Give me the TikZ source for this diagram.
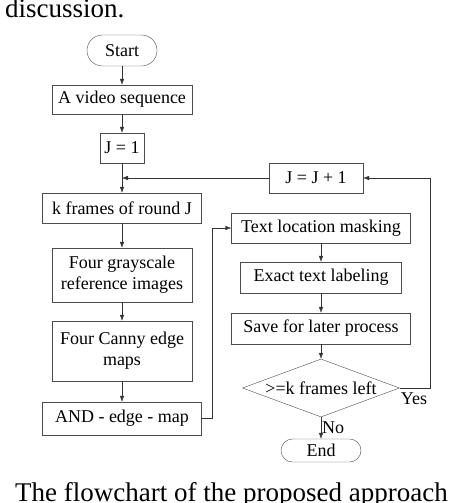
\documentclass[tikz,border=0pt]{standalone}
\usepackage{fontspec}
\setmainfont{Liberation Serif}
\usetikzlibrary{shapes.geometric,shapes.misc,arrows.meta}

\begin{document}
\begin{tikzpicture}[x=1pt,y=-1pt,
  box/.style={draw=black!70,inner sep=0pt,align=center,font=\fontsize{18}{21}\selectfont},
  term/.style={box,rounded rectangle},
  flow/.style={draw=black!80,-{Latex[length=6pt,width=4.5pt]}},
  note/.style={inner sep=1pt,font=\fontsize{18}{21}\selectfont}]
\useasboundingbox (0,0) rectangle (474,503);
\clip (0,0) rectangle (474,503);
\node[anchor=base west,inner sep=0pt,font=\fontsize{27}{30}\selectfont] (prev) at (5,18) {discussion.};
% left column
\node[term,minimum width=70pt,minimum height=31pt] (start) at (122,50.5) {Start};
\node[box,minimum width=140pt,minimum height=29pt] (video) at (122,99.5) {A video sequence};
\node[box,minimum width=44pt,minimum height=30pt] (j1) at (122,148) {J = 1};
\node[box,minimum width=159pt,minimum height=30pt] (kframes) at (122,208) {k frames of round J};
\node[box,minimum width=140pt,minimum height=54pt] (gray) at (122,275) {Four grayscale\\reference images};
\node[box,minimum width=140pt,minimum height=60pt] (canny) at (122,351) {Four Canny edge\\maps};
\node[box,minimum width=159pt,minimum height=33pt] (andmap) at (122,418.5) {AND - edge - map};
% right column
\node[box,minimum width=94pt,minimum height=30pt] (jinc) at (316,178) {J = J + 1};
\node[box,minimum width=179pt,minimum height=30pt] (mask) at (321,228) {Text location masking};
\node[box,minimum width=161pt,minimum height=31pt] (exact) at (321,277.5) {Exact text labeling};
\node[box,minimum width=179pt,minimum height=31pt] (save) at (321,328.5) {Save for later process};
\node[box,diamond,aspect=2.7,minimum width=157pt,minimum height=58pt] (dec) at (321,388) {\makebox[0pt]{>=k frames left}};
\node[term,minimum width=80pt,minimum height=23pt] (end) at (321,450.5) {End};
\node[note,anchor=north west] (yes) at ([yshift=-4pt]dec.east) {Yes};
% connectors
\draw[flow] (start.south) -- (video.north);
\draw[flow] (video.south) -- (j1.north);
\draw[flow] (j1.south) -- (kframes.north);
\draw[flow] (jinc.west) -- (jinc.west -| j1.south);
\draw[flow] (kframes.south) -- (gray.north);
\draw[flow] (gray.south) -- (canny.north);
\draw[flow] (canny.south) -- (andmap.north);
\draw[flow] (andmap.east) -- ++(10.5,0) |- (mask.west);
\draw[flow] (mask.south) -- (exact.north);
\draw[flow] (exact.south) -- (save.north);
\draw[flow] (save.south) -- (dec.north);
\draw[flow] (dec.east) -- ++(30,0) |- (jinc.east);
\draw[flow] (dec.south) -- node[note,right] (no) {No} (end.north);
\node[anchor=base west,inner sep=0pt,font=\fontsize{27}{30}\selectfont] (caption) at (15,501) {The flowchart of the proposed approach};
\end{tikzpicture}
\end{document}
